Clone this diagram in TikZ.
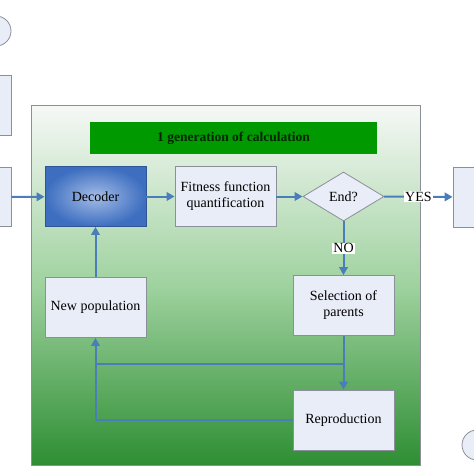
\documentclass[tikz,border=0pt]{standalone}
\usepackage{fontspec}
\setmainfont{Liberation Serif}
\usetikzlibrary{shapes.geometric,arrows.meta,positioning,calc}

\definecolor{boxfill}{HTML}{E9EDF8}
\definecolor{boxline}{HTML}{8A8F99}
\definecolor{flowblue}{HTML}{4A7EBB}
\definecolor{bargreen}{HTML}{009A00}
\definecolor{topgreen}{HTML}{F6F8F6}
\definecolor{midgreen}{HTML}{9FD29F}
\definecolor{deepgreen}{HTML}{2E8E33}
\definecolor{decin}{HTML}{A3BCE6}
\definecolor{decout}{HTML}{3D6EC0}
\definecolor{decline}{HTML}{2F5597}

\begin{document}
\begin{tikzpicture}[x=1pt, y=-1pt, font=\fontsize{14}{16}\selectfont]
    % Styles
    \tikzstyle{block}=[draw=boxline, fill=boxfill, line width=0.8pt, minimum width=101pt, minimum height=60pt, align=center, inner sep=2pt]
    \tikzstyle{side}=[draw=boxline, fill=boxfill, line width=0.8pt]
    \tikzstyle{flow}=[draw=flowblue, line width=2pt, -{Triangle[length=8pt,width=8.5pt]}]
    \tikzstyle{link}=[draw=flowblue, line width=2pt]
    \tikzstyle{tag}=[fill=white, inner sep=1pt]

    \useasboundingbox (0,0) rectangle (474,474);

    % Outer shapes, cut by the page edge
    \draw[side] (-4,31) circle (15);
    \draw[side] (-10,75) rectangle (11,135);
    \node[side, minimum width=21pt, minimum height=59pt] (input) at (0.5,197) {};
    \node[side, minimum width=37pt, minimum height=60pt] (output) at (471.5,197) {};
    \draw[side] (477,445) circle (15);

    % One generation frame
    \shade[top color=topgreen, bottom color=deepgreen, middle color=midgreen] (31,105) rectangle (420,465);
    \draw[boxline, line width=0.8pt] (31,105) rectangle (420,465);
    \node[fill=bargreen, minimum width=287pt, minimum height=32pt, font=\fontsize{13.5}{15}\selectfont\bfseries, text=black!85!green] (title) at (233.5,138) {1 generation of calculation};

    % Steps
    \node[block, draw=decline, inner color=decin, outer color=decout] (decoder) at (95.5,196.5) {Decoder};
    \node[block] (fitness) at (225.5,196.5) {Fitness function\\quantification};
    \node[diamond, draw=boxline, fill=boxfill, line width=0.8pt, aspect=1.65, minimum width=81pt, minimum height=49pt, inner sep=0pt] (stop) at (343.5,196.5) {End?};
    \node[block] (select) at (343.5,305.5) {Selection of\\parents};
    \node[block] (repro) at (343.5,420) {Reproduction};
    \node[block] (newpop) at (95.5,307.5) {New population};
    \coordinate (split) at (343.5,364);

    % Connections
    \draw[flow] (input) -- (decoder);
    \draw[flow] (decoder) -- (fitness);
    \draw[flow] (fitness) -- (stop);
    \draw[flow] (stop) -- node[tag, pos=0.5] {YES} (output);
    \draw[flow] (stop) -- node[tag, pos=0.5] {NO} (select);
    \draw[flow] (select) -- (repro);
    \draw[flow] (repro.west) -| (newpop.south);
    \draw[link] (split) -- (split -| newpop.south);
    \draw[flow] (newpop) -- (decoder);
\end{tikzpicture}
\end{document}
